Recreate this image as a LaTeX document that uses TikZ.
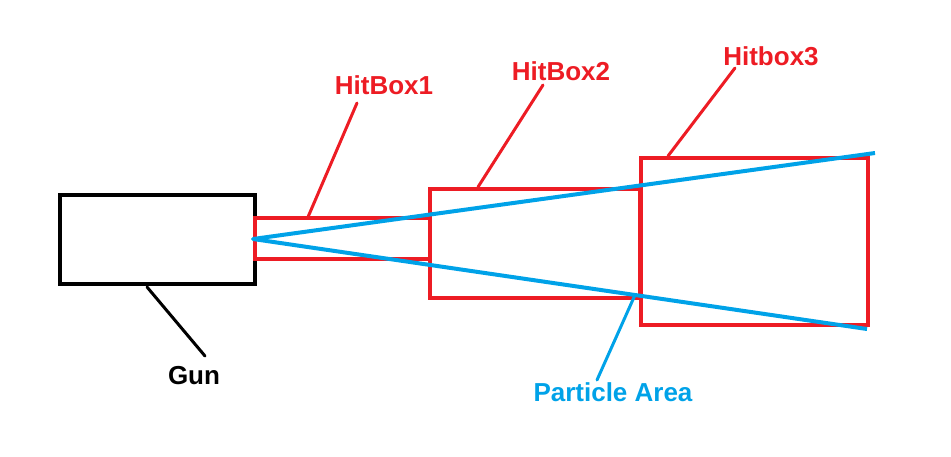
\documentclass[tikz,border=0pt]{standalone}
\usepackage{fontspec}
\setmainfont{Liberation Sans}
\definecolor{paintred}{RGB}{237,28,36}
\definecolor{paintblue}{RGB}{0,162,232}
\tikzset{
  box/.style={draw, line width=4pt, inner sep=0pt},
  lbl/.style={inner sep=0pt, font=\bfseries\fontsize{26}{30}\selectfont},
  lead/.style={line width=3pt, line cap=round}
}

\begin{document}
\begin{tikzpicture}[x=1pt, y=-1pt]
            \useasboundingbox (0,0) rectangle (951,456);
            % gun and hitboxes
            \node[box, minimum width=195pt, minimum height=89pt] (gun) at (157.5,239.5) {};
            \node[box, paintred, minimum width=175pt, minimum height=41pt] (hb1) at (342.5,238.5) {};
            \node[box, paintred, minimum width=210pt, minimum height=109pt] (hb2) at (535,243.5) {};
            \node[box, paintred, minimum width=227pt, minimum height=167pt] (hb3) at (754.5,241.5) {};
            
            % particle area
            \coordinate (apex) at (253,239);
            \coordinate (up) at (875,153);
            \coordinate (down) at (867,329);
            \draw[paintblue, line width=4pt, line join=round] (up) -- (apex) -- (down);
            
            % labels
            \node[lbl] (gunlbl) at (194,376) {Gun};
            \node[lbl, paintred] (hb1lbl) at (384,85.5) {HitBox1};
            \node[lbl, paintred] (hb2lbl) at (561,71.5) {HitBox2};
            \node[lbl, paintred] (hb3lbl) at (771,56) {Hitbox3};
            \node[lbl, paintblue] (arealbl) at (613,392.5) {Particle Area};
            
            \coordinate (gunend) at (205,356);
            \coordinate (hb1end) at (357,103);
            \coordinate (hb2end) at (543,85);
            \coordinate (hb3end) at (735,68);
            \coordinate (areaend) at (597,380);
            \draw[lead] (147,287) -- (gunend);
            \draw[lead, paintred] (308,217) -- (hb1end);
            \draw[lead, paintred] (478,187) -- (hb2end);
            \draw[lead, paintred] (668,156) -- (hb3end);
            \draw[lead, paintblue] (635,295) -- (areaend);
        \end{tikzpicture}
\end{document}
